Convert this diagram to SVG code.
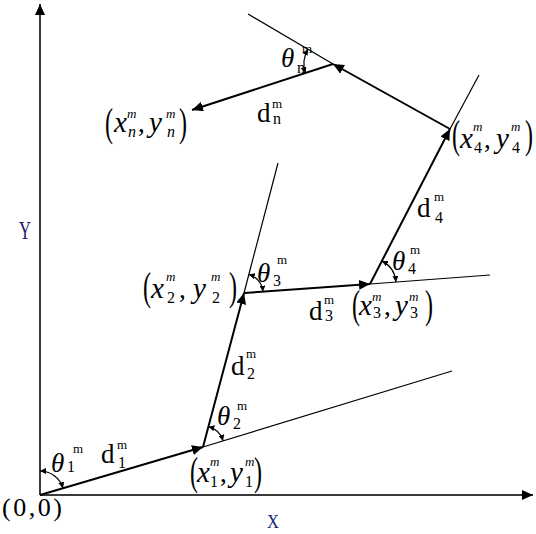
<svg xmlns="http://www.w3.org/2000/svg" width="536" height="534" viewBox="0 0 536 534">
<style>
text{font-family:"Liberation Serif","Times New Roman",serif;fill:#000}
.big{font-size:27px}
.co{font-size:29px;font-style:italic}
.it{font-style:italic}
.sm{font-size:13px}
.sb{font-size:16px}
.pa{font-size:40px}
.ax{fill:#1c1c6e;font-size:23px}
.seg{stroke:#000;stroke-width:2;fill:none}
.thin{stroke:#000;stroke-width:1.2;fill:none}
.axis{stroke:#3a3a3a;stroke-width:2;fill:none}
.arc{stroke:#000;stroke-width:1.2;fill:none}
</style>
<defs>
<marker id="ah" markerUnits="userSpaceOnUse" markerWidth="12" markerHeight="10" refX="11" refY="5" orient="auto"><path d="M0,0 L11,5 L0,10 Z" fill="#000"/></marker>
<marker id="sa" markerUnits="userSpaceOnUse" markerWidth="7" markerHeight="6" refX="6" refY="3" orient="auto-start-reverse"><path d="M0,0 L6,3 L0,6 Z" fill="#000"/></marker>
</defs>

<g id="axes">
<path class="axis" d="M40,495 L40,4" marker-end="url(#ah)"/>
<path class="axis" d="M40,495 L533,495" marker-end="url(#ah)"/>
<text class="ax" transform="translate(19,239) scale(0.72,1.05)">Y</text>
<text class="ax" transform="translate(267,528) scale(0.72,0.78)">X</text>
<text x="2" y="516" style="font-size:26px" textLength="60" lengthAdjust="spacing">(0,0)</text>
</g>

<g id="connectors">
<path class="thin" d="M203,447 L452,371"/>
<path class="thin" d="M244,293 L278,163"/>
<path class="thin" d="M370,284 L490,275"/>
<path class="thin" d="M450,129 L479,75"/>
<path class="thin" d="M333,64 L248,14"/>
<path class="seg" d="M40,495 L203,447" marker-end="url(#ah)"/>
<path class="seg" d="M203,447 L244,293" marker-end="url(#ah)"/>
<path class="seg" d="M244,293 L370,284" marker-end="url(#ah)"/>
<path class="seg" d="M370,284 L450,129" marker-end="url(#ah)"/>
<path class="seg" d="M450,129 L333,64" marker-end="url(#ah)"/>
<path class="seg" d="M333,64 L192,110" marker-end="url(#ah)"/>
<path class="arc" d="M40,471 A24,24 0 0 1 63,488.2" marker-start="url(#sa)" marker-end="url(#sa)"/>
<path class="arc" d="M208.4,426.7 A21,21 0 0 1 223.1,440.9" marker-start="url(#sa)" marker-end="url(#sa)"/>
<path class="arc" d="M248.8,274.6 A19,19 0 0 1 262.9,291.6" marker-start="url(#sa)" marker-end="url(#sa)"/>
<path class="arc" d="M381.9,260.9 A26,26 0 0 1 395.9,282" marker-start="url(#sa)" marker-end="url(#sa)"/>
<path class="arc" d="M308,49.3 A29,29 0 0 0 305.4,73" marker-start="url(#sa)" marker-end="url(#sa)"/>
</g>

<g id="theta1"><text class="big it" x="51" y="472">θ</text><text class="sm" x="73" y="453">m</text><text class="sb" x="67" y="472">1</text></g>
<g id="d1"><text class="big" x="101" y="463">d</text><text class="sm" x="117" y="449">m</text><text class="sb" x="118" y="468">1</text></g>
<g id="theta2"><text class="big it" x="217" y="425">θ</text><text class="sm" x="237" y="410">m</text><text class="sb" x="233" y="429">2</text></g>
<g id="d2"><text class="big" x="231" y="375">d</text><text class="sm" x="246" y="358">m</text><text class="sb" x="247" y="379">2</text></g>
<g id="theta3"><text class="big it" x="257" y="282">θ</text><text class="sm" x="277" y="264">m</text><text class="sb" x="273" y="286">3</text></g>
<g id="d3"><text class="big" x="309" y="320">d</text><text class="sm" x="324" y="304">m</text><text class="sb" x="325" y="321">3</text></g>
<g id="theta4"><text class="big it" x="392" y="270">θ</text><text class="sm" x="410" y="254">m</text><text class="sb" x="408" y="274">4</text></g>
<g id="d4"><text class="big" x="417" y="217">d</text><text class="sm" x="434" y="201">m</text><text class="sb" x="435" y="223">4</text></g>
<g id="thetan"><text class="big it" x="281" y="67">θ</text><text class="sm" x="302" y="53">m</text><text class="sb" x="297" y="73">n</text></g>
<g id="dn"><text class="big" x="257" y="122">d</text><text class="sm" x="272" y="108">m</text><text class="sb" x="273" y="124">n</text></g>

<g id="p1">
<text class="pa" transform="translate(190,485) scale(0.6,1)">(</text>
<text class="co" x="197" y="482">x</text><text class="sm it" x="210" y="466">m</text><text class="sb" x="210" y="487">1</text>
<text class="big" x="220" y="482">,</text>
<text class="co" x="230" y="482">y</text><text class="sm it" x="245" y="466">m</text><text class="sb" x="245" y="487">1</text>
<text class="pa" transform="translate(254,485) scale(0.6,1)">)</text>
</g>
<g id="p2">
<text class="pa" transform="translate(143,300) scale(0.6,1)">(</text>
<text class="co" x="151" y="298">x</text><text class="sm it" x="166" y="281">m</text><text class="sb" x="167" y="303">2</text>
<text class="big" x="179" y="298">,</text>
<text class="co" x="193" y="298">y</text><text class="sm it" x="211" y="281">m</text><text class="sb" x="212" y="303">2</text>
<text class="pa" transform="translate(229,300) scale(0.6,1)">)</text>
</g>
<g id="p3">
<text class="pa" transform="translate(352,318) scale(0.6,1)">(</text>
<text class="co" x="359" y="315">x</text><text class="sm it" x="372" y="301">m</text><text class="sb" x="373" y="318">3</text>
<text class="big" x="384" y="315">,</text>
<text class="co" x="395" y="315">y</text><text class="sm it" x="409" y="301">m</text><text class="sb" x="410" y="318">3</text>
<text class="pa" transform="translate(425,318) scale(0.6,1)">)</text>
</g>
<g id="p4">
<text class="pa" transform="translate(452,148) scale(0.6,1)">(</text>
<text class="co" x="460" y="148">x</text><text class="sm it" x="473" y="131">m</text><text class="sb" x="474" y="153">4</text>
<text class="big" x="484" y="148">,</text>
<text class="co" x="496" y="148">y</text><text class="sm it" x="511" y="131">m</text><text class="sb" x="512" y="153">4</text>
<text class="pa" transform="translate(525,148) scale(0.6,1)">)</text>
</g>
<g id="pn">
<text class="pa" transform="translate(105,136) scale(0.6,1)">(</text>
<text class="co" x="114" y="132">x</text><text class="sm it" x="127" y="118">m</text><text class="sb it" x="128" y="137">n</text>
<text class="big" x="138" y="132">,</text>
<text class="co" x="149" y="132">y</text><text class="sm it" x="166" y="118">m</text><text class="sb it" x="167" y="137">n</text>
<text class="pa" transform="translate(179,136) scale(0.6,1)">)</text>
</g>
</svg>
